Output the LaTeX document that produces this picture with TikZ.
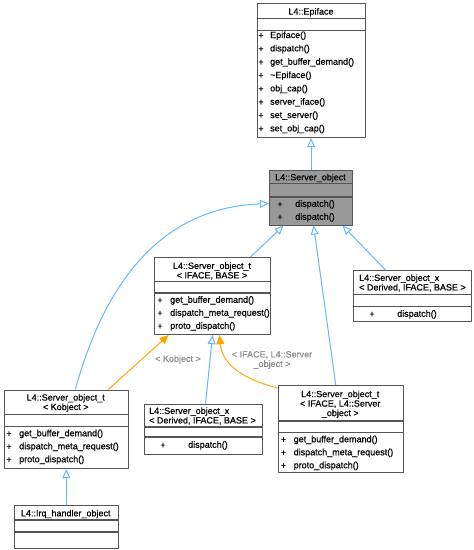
\documentclass[tikz,border=0pt]{standalone}
\usepackage{fontspec}
\setmainfont[FakeBold=0.6]{Liberation Sans}
\usetikzlibrary{arrows.meta,calc}

\definecolor{edgeblue}{HTML}{63B8FF}
\definecolor{edgeorange}{HTML}{FFA500}
\definecolor{frameline}{HTML}{555555}
\definecolor{focusfill}{HTML}{999999}
\definecolor{labelgray}{HTML}{8C8C8C}

\tikzset{
  classbox/.style={draw=frameline, fill=white, line width=1.1pt, inner sep=0pt, anchor=north west},
  sepline/.style={draw=frameline, line width=1.1pt},
  ctext/.style={font=\fontsize{9}{9.5}\selectfont, inner sep=0pt, yshift=-1.5pt},
  member/.style={ctext, anchor=west, text height=6.5pt, text depth=2pt},
  tmplabel/.style={ctext, text=labelgray, align=center},
  inherit/.style={draw=edgeblue, line width=1pt, -{Triangle[length=9pt,width=8pt,fill=white]}},
  instance/.style={draw=edgeorange, line width=1pt, -{Triangle[length=9pt,width=8pt]}},
}

\begin{document}
\begin{tikzpicture}[x=1pt,y=-1pt,line join=round]
  % Match the original artwork frame.
  \useasboundingbox (0,0) rectangle (474,550);

  % Class frames, placed by their top-left corner.
  \node[classbox, minimum width=108, minimum height=134] (epi) at (257,3) {};
  \node[classbox, fill=focusfill, minimum width=83, minimum height=55] (so) at (269,169.5) {};
  \node[classbox, minimum width=116, minimum height=77] (sot) at (154,257) {};
  \node[classbox, minimum width=118, minimum height=51] (sox) at (353,270) {};
  \node[classbox, minimum width=118, minimum height=50.5] (sxm) at (144,403.5) {};
  \node[classbox, minimum width=124.5, minimum height=78.5] (sok) at (3.5,389.5) {};
  \node[classbox, minimum width=124.5, minimum height=87] (sol) at (278,385) {};
  \node[classbox, minimum width=103.5, minimum height=43] (irq) at (14,504.5) {};

  % Compartment rules: below the name, below the (empty) attributes.
  \foreach \c/\a/\b in {epi/15.5/27.5, so/14/27.5, sot/24.5/36, sox/24.5/36.5,
                        sxm/23.5/33.5, sok/25/37, sol/36/47.5, irq/15.5/27.5} {
    \draw[sepline] ($(\c.north west)+(0,\a)$) -- ($(\c.north east)+(0,\a)$);
    \draw[sepline] ($(\c.north west)+(0,\b)$) -- ($(\c.north east)+(0,\b)$);
  }

  % Class names.
  \node[ctext] (epi-name) at (311,10.75) {L4::Epiface};
  \node[ctext] (so-name) at (310.5,176.5) {L4::Server\_object};
  \node[ctext, align=center] (sot-name) at (212,269.5) {L4::Server\_object\_t\\< IFACE, BASE >};
  \node[ctext, align=left, anchor=west] (sox-name) at (359,281.5) {L4::Server\_object\_x\\< Derived, IFACE, BASE >};
  \node[ctext, align=left, anchor=west] (sxm-name) at (149,414.5) {L4::Server\_object\_x\\< Derived, IFACE, BASE >};
  \node[ctext, align=center] (sok-name) at (65.75,401.5) {L4::Server\_object\_t\\< Kobject >};
  \node[ctext, align=center] (sol-name) at (340.25,402.8) {L4::Server\_object\_t\\< IFACE, L4::Server\\\_object >};
  \node[ctext] (irq-name) at (65.75,512.5) {L4::Irq\_handler\_object};

  % Public members.
  \foreach \m [count=\i from 0] in {Epiface(), dispatch(), get\_buffer\_demand(),
      \textasciitilde Epiface(), obj\_cap(), server\_iface(), set\_server(), set\_obj\_cap()} {
    \node[ctext] (epi-p\i) at (261,34.3+13.33*\i) {+};
    \node[member] (epi-m\i) at (270,34.3+13.33*\i) {\m};
  }
  \foreach \i in {0,1} {
    \node[ctext] (so-p\i) at (280,203+13*\i) {+};
    \node[member] (so-m\i) at (295,203+13*\i) {dispatch()};
  }
  \foreach \c/\px/\mx/\y in {sot/160/170/299, sok/9/19/432.5, sol/283.5/293.5/438.5} {
    \foreach \m [count=\i from 0] in {get\_buffer\_demand(), dispatch\_meta\_request(), proto\_dispatch()} {
      \node[ctext] (\c-p\i) at (\px,\y+13*\i) {+};
      \node[member] (\c-m\i) at (\mx,\y+13*\i) {\m};
    }
  }
  \node[ctext] (sox-p0) at (372,313) {+};
  \node[member] (sox-m0) at (397,313) {dispatch()};
  \node[ctext] (sxm-p0) at (163,444) {+};
  \node[member] (sxm-m0) at (188,444) {dispatch()};

  % Template arguments on the instantiation edges.
  \node[tmplabel] (lbl-kob) at (178,358) {< Kobject >};
  \node[tmplabel] (lbl-ifc) at (272,358.5) {< IFACE, L4::Server\\\_object >};

  % Inheritance edges, hollow head at the base class.
  \draw[inherit] (so.north) -- (so.north |- epi.south);
  \draw[inherit] ([xshift=38]sot.north) -- ([xshift=-27.5]so.south);
  \draw[inherit] ([xshift=-5]sol.north) -- ([xshift=2.5]so.south);
  \draw[inherit] ([xshift=-27]sox.north) -- ([xshift=31.5]so.south);
  \draw[inherit] ([xshift=9]sok.north) .. controls (100,300) and (150,208) .. ([yshift=-6]so.west);
  \draw[inherit] ([xshift=2]sxm.north) -- (sot.south);
  \draw[inherit] (irq.north) -- (irq.north |- sok.south);

  % Template instantiation edges.
  \draw[instance] ([xshift=42]sok.north) -- ([xshift=-44]sot.south);
  \draw[instance] ([yshift=-3]sol.north west) .. controls (245,380) and (222,365) .. ([xshift=7]sot.south);
\end{tikzpicture}
\end{document}
